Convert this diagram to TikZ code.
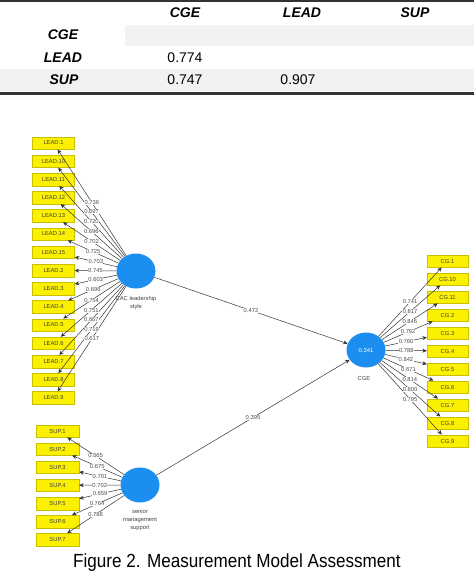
\documentclass[tikz,border=0pt]{standalone}
\usepackage{graphicx}
\usepackage{fontspec}
\setmainfont{Liberation Sans}
\usetikzlibrary{arrows.meta,shapes.geometric}
\definecolor{indyellow}{RGB}{250,240,0}
\definecolor{latblue}{RGB}{28,142,240}
\definecolor{rowgray}{RGB}{242,242,242}
\newcommand{\tabfont}{\fontsize{14}{16}\selectfont}
\newcommand{\pmfont}{\fontsize{5.8}{8}\selectfont}

\begin{document}
\begin{tikzpicture}[x=1pt,y=-1pt,
  hdr/.style={font=\tabfont\bfseries\itshape},
  val/.style={font=\tabfont},
  indbox/.style={draw=indyellow!80!black,line width=0.3pt,fill=indyellow,
    minimum width=42pt,minimum height=12.5pt,inner sep=0pt,font=\pmfont,text=black!75},
  latent/.style={ellipse,fill=latblue,minimum width=39pt,minimum height=35pt,inner sep=0pt},
  latname/.style={font=\pmfont,text=black!75,align=center},
  ld/.style={draw=black!80,line width=0.5pt,-{Stealth[length=4.5pt,width=4pt]}},
  ldval/.style={font=\pmfont,text=black!70,fill=white,inner sep=0.4pt}]
\useasboundingbox (0,0) rectangle (474,576);

% correlation table
\fill[rowgray] (125,25) rectangle (474,46);
\fill[rowgray] (0,69) rectangle (474,91);
\draw[line width=2pt,black!80] (0,1) -- (474,1);
\draw[line width=2.2pt,black!80] (0,93.5) -- (474,93.5);
\node[hdr] (hcge) at (185,13) {CGE};
\node[hdr] (hlead) at (302,13) {LEAD};
\node[hdr] (hsup) at (415,13) {SUP};
\node[hdr] (rcge) at (63,35) {CGE};
\node[hdr] (rlead) at (63,58) {LEAD};
\node[hdr] (rsup) at (64,80) {SUP};
\node[val] (v21) at (185,58) {0.774};
\node[val] (v31) at (185,80) {0.747};
\node[val] (v32) at (298,80) {0.907};

% indicators
\foreach \lbl [count=\i] in {1,10,11,12,13,14,15,2,3,4,5,6,7,8,9}
  \node[indbox] (lead\i) at (53.5,{143+18.2*(\i-1)}) {LEAD.\lbl};
\foreach \i in {1,...,7}
  \node[indbox,minimum width=43pt] (sup\i) at (57.5,{431+18.1*(\i-1)}) {SUP.\i};
\foreach \lbl [count=\i] in {1,10,11,2,3,4,5,6,7,8,9}
  \node[indbox,minimum width=41pt] (cg\i) at (447.5,{261+18*(\i-1)}) {CG.\lbl};

% latent variables
\node[latent] (leadc) at (136,271) {};
\node[latent] (supc) at (140,485) {};
\node[latent,font=\pmfont,text=white] (cgec) at (366,350) {0.341};
\node[latname] (leadname) at (136,303) {CAC leadership\\style};
\node[latname] (supname) at (140,520) {senior\\management\\support};
\node[latname] (cgename) at (364,378) {CGE};

% outer model
\foreach \i in {1,...,15} \draw[ld] (leadc) -- (lead\i);
\foreach \i in {1,...,7} \draw[ld] (supc) -- (sup\i);
\foreach \i in {1,...,11} \draw[ld] (cgec) -- (cg\i);
\foreach \v [count=\i] in {0.736,0.697,0.720,0.696,0.702,0.725,0.703,0.745,
    0.603,0.696,0.754,0.751,0.667,0.719,0.617}
  \path (leadc) -- node[ldval] {\v} (lead\i);
\foreach \v [count=\i] in {0.665,0.675,0.701,0.702,0.659,0.764,0.788}
  \path (supc) -- node[ldval] {\v} (sup\i);
\foreach \v [count=\i] in {0.741,0.817,0.846,0.792,0.760,0.788,0.842,0.671,
    0.814,0.800,0.795}
  \path (cgec) -- node[ldval] {\v} (cg\i);

% inner model
\draw[ld] (leadc) -- node[ldval] {0.472} (cgec);
\draw[ld] (supc) -- node[ldval] {0.395} (cgec);

\node[font=\fontsize{19}{21}\selectfont] (caption) at (237,563)
  {\scalebox{0.9}[1]{Figure 2. Measurement Model Assessment}};
\end{tikzpicture}
\end{document}
